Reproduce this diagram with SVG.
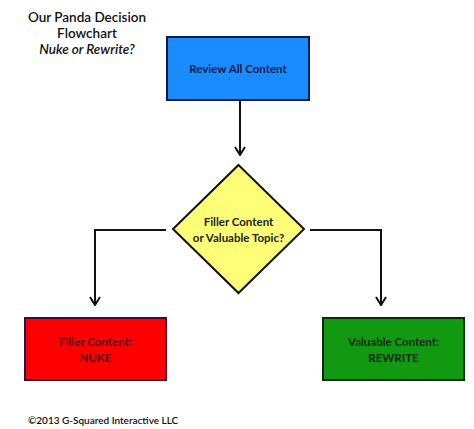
<svg xmlns="http://www.w3.org/2000/svg" width="474" height="429" viewBox="0 0 474 429">
<defs>
<style>
text{font-family:Lato,"Open Sans","Liberation Sans",sans-serif;text-anchor:middle}
.t{font-size:13.5px;fill:#111;font-weight:600}
.n{font-size:11.5px;font-weight:700}
.c{stroke:#111;stroke-width:2;fill:none}
</style>
<marker id="ah" viewBox="0 0 10 12" refX="9" refY="6" markerWidth="10" markerHeight="12" markerUnits="userSpaceOnUse" orient="auto">
<polyline points="1,1 9,6 1,11" fill="none" stroke="#111" stroke-width="2"/>
</marker>
</defs>
<rect width="474" height="429" fill="#fff"/>
<g id="title">
<text class="t" x="87" y="22">Our Panda Decision</text>
<text class="t" x="87" y="38">Flowchart</text>
<text class="t" x="87" y="54" font-style="italic">Nuke or Rewrite?</text>
</g>
<g id="connectors">
<line class="c" x1="240" y1="101" x2="240" y2="155" marker-end="url(#ah)"/>
<polyline class="c" points="166,230 95,230 95,305" marker-end="url(#ah)"/>
<polyline class="c" points="310,230 381,230 381,305" marker-end="url(#ah)"/>
</g>
<g id="review">
<rect x="167" y="37" width="142" height="63" fill="#1a8cff" stroke="#0a1a4a" stroke-width="2"/>
<text class="n" x="238" y="73" fill="#0a1a4a">Review All Content</text>
</g>
<g id="decision">
<polygon points="238.5,165 304,229 238.5,293 173,229" fill="#ffff77" stroke="#111" stroke-width="2"/>
<text class="n" x="238.5" y="226" fill="#222">Filler Content</text>
<text class="n" x="238.5" y="242" fill="#222">or Valuable Topic?</text>
</g>
<g id="nuke">
<rect x="25" y="318" width="141" height="62" fill="#ff0000" stroke="#3a0a3a" stroke-width="2"/>
<text class="n" x="95.5" y="346" fill="#5a0010">Filler Content:</text>
<text class="n" x="95.5" y="362" fill="#5a0010">NUKE</text>
</g>
<g id="rewrite">
<rect x="323" y="318" width="141" height="62" fill="#119911" stroke="#0a2a0a" stroke-width="2"/>
<text class="n" x="393.5" y="346" fill="#0a2a0a">Valuable Content:</text>
<text class="n" x="393.5" y="362" fill="#0a2a0a">REWRITE</text>
</g>
<g id="footer">
<text x="28" y="424" style="text-anchor:start;font-size:10px;font-weight:600;fill:#111">©2013 G-Squared Interactive LLC</text>
</g>
</svg>
